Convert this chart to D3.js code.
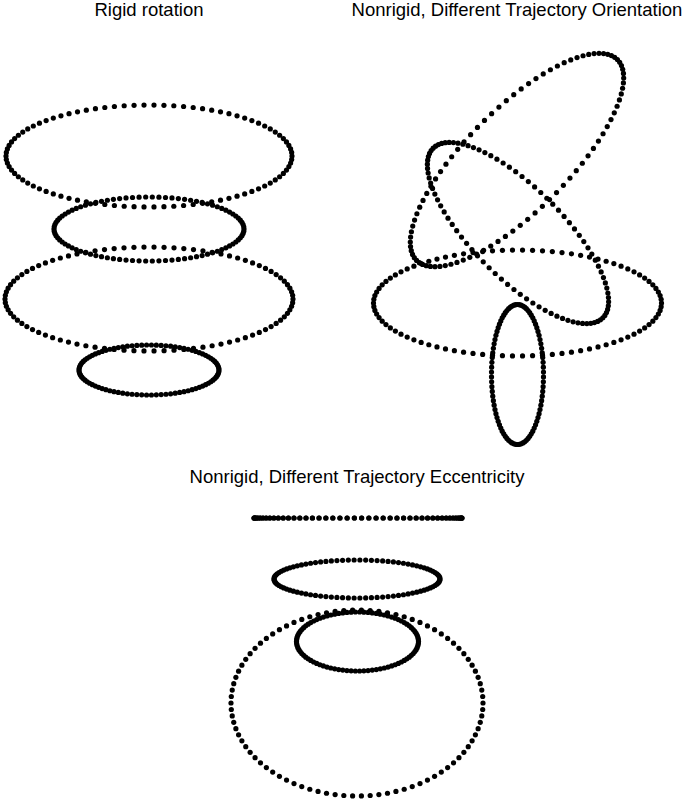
<!DOCTYPE html>
<html>
<head>
<meta charset="utf-8">
<title>Trajectory ellipses</title>
<script src="https://cdn.jsdelivr.net/npm/d3@7"></script>
<style>
    html, body { margin: 0; padding: 0; background: #fff; }
    #chart { width: 685px; height: 801px; }
    .panel-title {
        font-family: "Liberation Sans", Arial, Helvetica, sans-serif;
        font-size: 18.5px;
        fill: #000;
        text-anchor: middle;
    }
</style>
</head>
<body>
<div id="chart"></div>
<script>
// Samples taken along one full cycle of every trajectory
const SAMPLES = 90;

const panelTitles = [
    'Rigid rotation',
    'Nonrigid, Different Trajectory Orientation',
    'Nonrigid, Different Trajectory Eccentricity'
];

// Trajectory centres (panel units, y downward), semi-axes, tilt in degrees
const rigidCenterX = [0, 0, 0, 0];
const rigidCenterY = [56, 129, 199, 270];
const rigidMajor = [143, 95, 144, 70];
const rigidMinor = [51, 32, 52, 25];
const rigidTilt = [0, 0, 0, 0];

const orientCenterX = [0, 1, 0.5, 0.5];
const orientCenterY = [60, 133, 203, 274.5];
const orientMajor = [142, 120, 144, 70];
const orientMinor = [51, 45, 53, 26];
const orientTilt = [-45, 45, 0, 90];

const eccCenterX = [1, 0, 0.5, 0];
const eccCenterY = [58, 119, 181.5, 243];
const eccMajor = [104, 83, 61, 126];
const eccMinor = [0, 19, 29.5, 93];
const eccTilt = [0, 0, 0, 0];

const W = 685, H = 801;
const DOT_RADIUS = 2.6;

// Where each panel sits on the page
const PANELS = [
    { originX: 149, top: 100, titleY: 15.5 },
    { originX: 517, top: 100, titleY: 15.5 },
    { originX: 357, top: 460, titleY: 483 }
];

/**
 * Build the sampled points of one elliptical trajectory
 */
function sampleTrajectory(cx, cy, a, b, tiltDeg) {
    const phi = tiltDeg * Math.PI / 180;
    const cp = Math.cos(phi), sp = Math.sin(phi);
    return d3.range(SAMPLES).map(k => {
        const t = 2 * Math.PI * k / SAMPLES;
        const u = a * Math.cos(t), v = b * Math.sin(t);
        return { x: cx + u * cp - v * sp, y: cy + u * sp + v * cp };
    });
}

function buildPanel(cxs, cys, majors, minors, tilts) {
    return cxs.map((cx, i) => sampleTrajectory(cx, cys[i], majors[i], minors[i], tilts[i]));
}

const panelData = [
    buildPanel(rigidCenterX, rigidCenterY, rigidMajor, rigidMinor, rigidTilt),
    buildPanel(orientCenterX, orientCenterY, orientMajor, orientMinor, orientTilt),
    buildPanel(eccCenterX, eccCenterY, eccMajor, eccMinor, eccTilt)
];

const svg = d3.select('#chart')
    .append('svg')
    .attr('width', W)
    .attr('height', H)
    .attr('viewBox', `0 0 ${W} ${H}`);

panelData.forEach((trajectories, p) => {
    const layout = PANELS[p];

    const x = d3.scaleLinear()
        .domain([-170, 170])
        .range([layout.originX - 170, layout.originX + 170]);
    const y = d3.scaleLinear()
        .domain([0, 350])
        .range([layout.top, layout.top + 350]);

    const g = svg.append('g').attr('class', 'panel');

    g.append('text')
        .attr('class', 'panel-title')
        .attr('x', x(0))
        .attr('y', layout.titleY)
        .text(panelTitles[p]);

    g.selectAll('g.trajectory')
        .data(trajectories)
        .join('g')
        .attr('class', 'trajectory')
        .selectAll('circle')
        .data(d => d)
        .join('circle')
        .attr('cx', d => x(d.x))
        .attr('cy', d => y(d.y))
        .attr('r', DOT_RADIUS)
        .attr('fill', '#000');
});
</script>
</body>
</html>
